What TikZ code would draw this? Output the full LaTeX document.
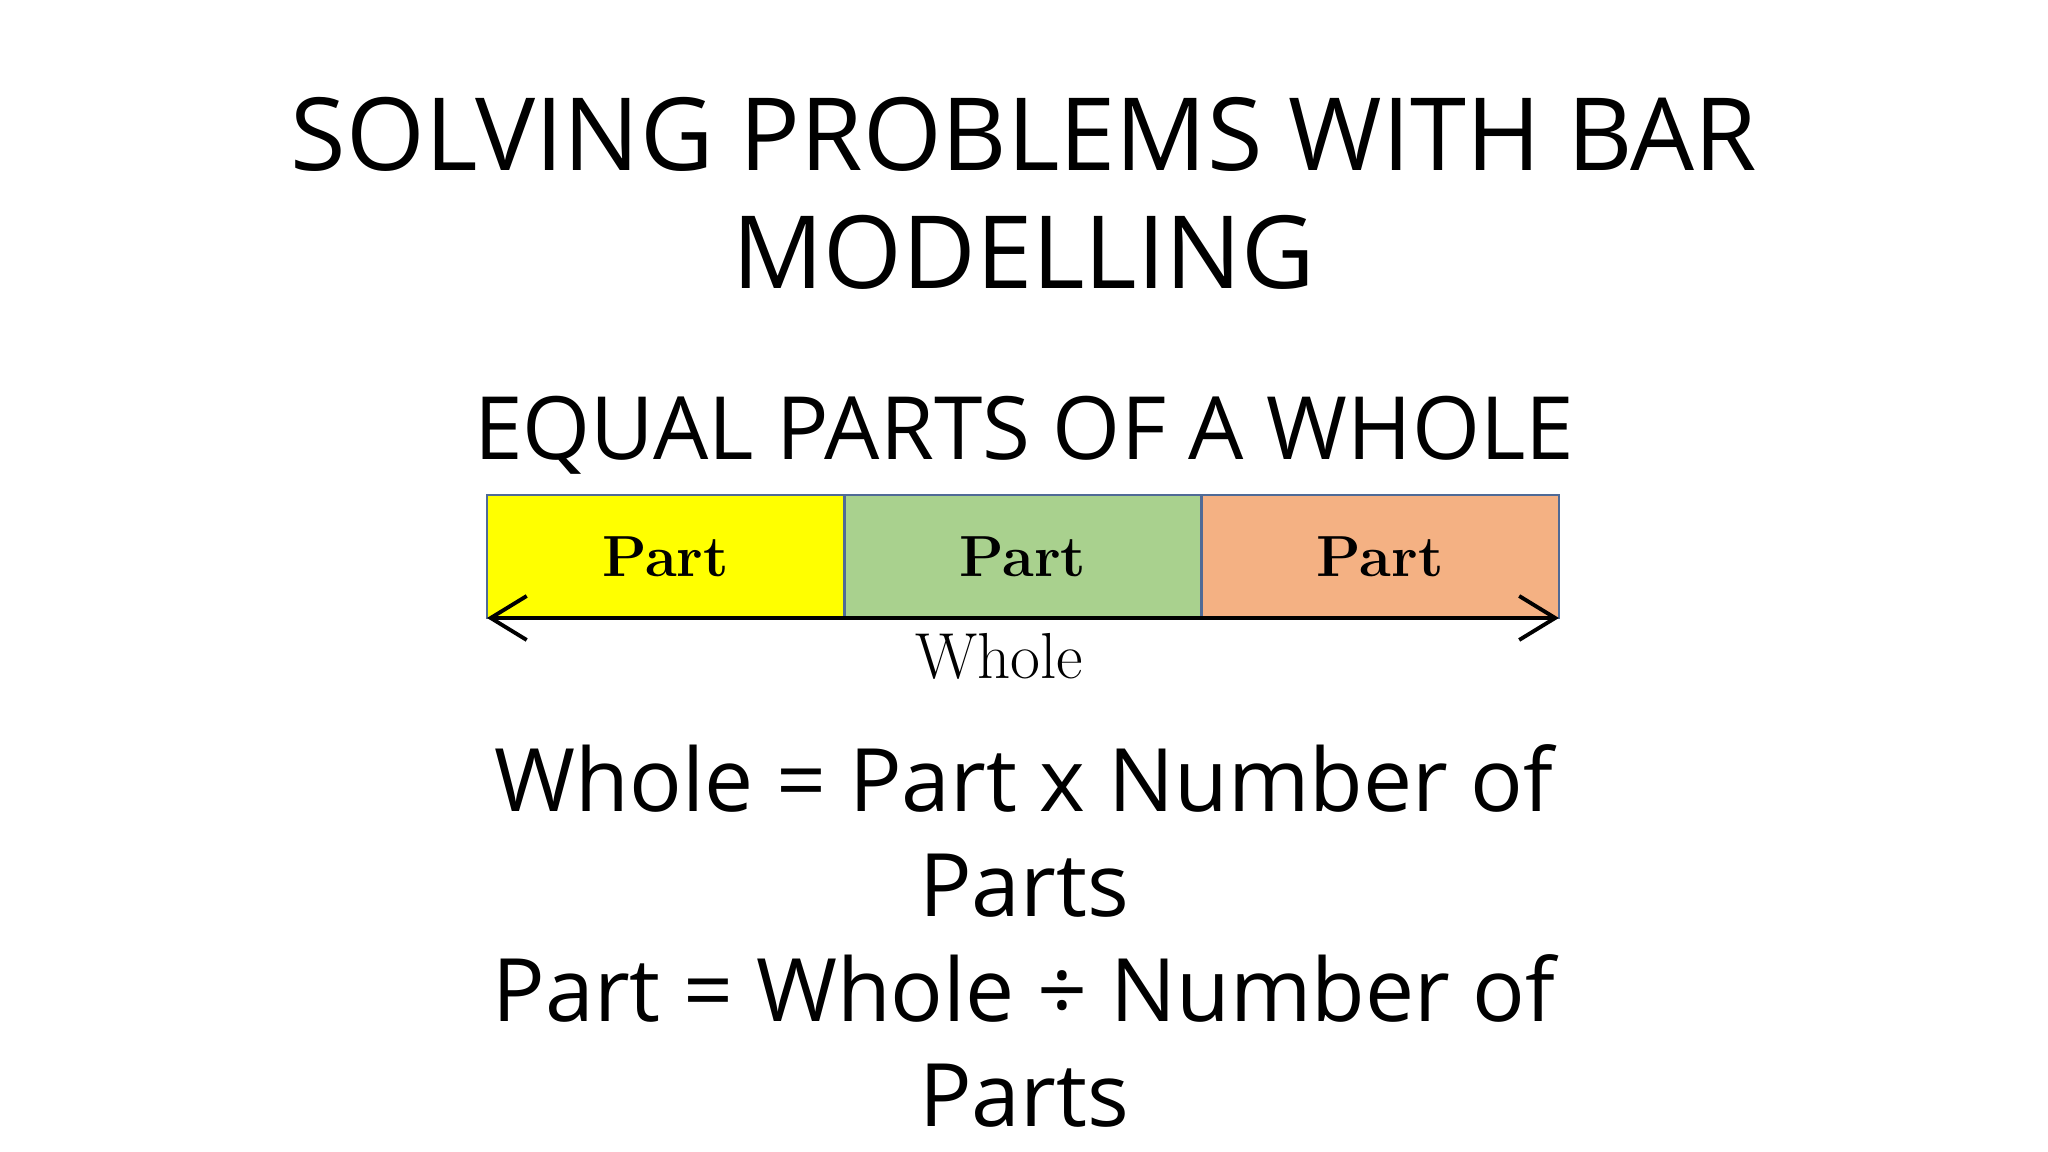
\documentclass[tikz,border=0pt]{standalone}
\usepackage{fontspec}
\setsansfont{Open Sans}
\usetikzlibrary{arrows.meta,positioning}
\definecolor{partyellow}{HTML}{FFFF00}
\definecolor{partgreen}{HTML}{A9D18E}
\definecolor{partorange}{HTML}{F4B183}
\definecolor{barline}{HTML}{4F6A96}

\begin{document}
\begin{tikzpicture}[
        node distance=0cm,
        barpart/.style={
            draw=barline, line width=0.7pt, inner sep=0pt, outer sep=0pt,
            minimum width=3.573cm, minimum height=1.23cm,
            font=\fontsize{16.5}{18}\selectfont\bfseries
        },
        heading/.style={font=\sffamily\fontsize{28.75}{33.6}\selectfont, align=center},
        formula/.style={font=\sffamily\fontsize{24.9}{29.8}\selectfont, align=center},
        barb/.tip={Straight Barb[length=3.6mm, width=4.4mm, line width=1.1pt]}
    ]
    \useasboundingbox (0,0) rectangle (20.48,11.52);
    \fill[white] (0,0) rectangle (20.48,11.52);

    % headings
    \node[heading] (title) at (10.24,9.585) {SOLVING PROBLEMS WITH BAR\\MODELLING};
    \node[heading, font=\sffamily\fontsize{24.85}{29}\selectfont] (subtitle) at (10.24,7.17) {EQUAL PARTS OF A WHOLE};

    % the bar
    \node[barpart, fill=partyellow, anchor=north west] (p1) at (4.87,6.57) {Part};
    \node[barpart, fill=partgreen] (p2) [right=of p1] {Part};
    \node[barpart, fill=partorange] (p3) [right=of p2] {Part};
    \draw[line width=1.4pt, barb-barb] (p1.south west) -- (p3.south east);
    \node[font=\fontsize{18.5}{20}\selectfont] (whole) at (9.99,4.96) {Whole};

    % formulas
    \node[formula] (rules) at (10.24,2.16) {Whole = Part x Number of\\Parts\\Part = Whole ÷ Number of\\Parts};
\end{tikzpicture}
\end{document}
